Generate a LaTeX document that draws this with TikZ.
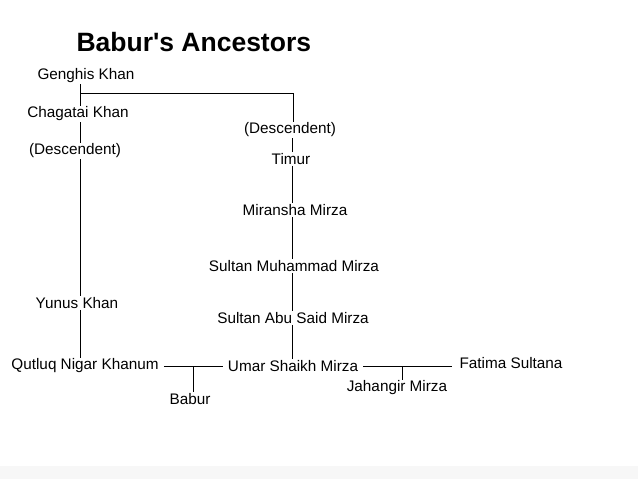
\documentclass[tikz,border=0pt]{standalone}
\usepackage{fontspec}
\setmainfont{Liberation Sans}
\begin{document}
\begin{tikzpicture}[x=1pt,y=-1pt,
  nm/.style={font=\fontsize{15.3}{17}\selectfont, inner sep=1pt},
  ln/.style={draw=black, line width=0.8pt}]
\useasboundingbox (0,0) rectangle (638,479);
\fill[gray!6] (0,466) rectangle (638,479);
\node[anchor=west, font=\fontsize{26.5}{30}\selectfont\bfseries] (title) at (73,42) {Babur\textquotesingle s Ancestors};
\node[nm] (gk) at (86,76) {Genghis Khan};
\node[nm] (ck) at (78,114) {Chagatai Khan};
\node[nm] (d1) at (75,151) {(Descendent)};
\node[nm] (yk) at (77,303) {Yunus Khan};
\node[nm] (qn) at (85,366) {Qutluq Nigar Khanum};
\node[nm] (ba) at (190,399) {Babur};
\node[nm] (d2) at (290,130) {(Descendent)};
\node[nm] (ti) at (291,159) {Timur};
\node[nm] (mm) at (295,210) {Miransha Mirza};
\node[nm] (sm) at (294,266) {Sultan Muhammad Mirza};
\node[nm] (sa) at (293,318) {Sultan Abu Said Mirza};
\node[nm] (us) at (293,366) {Umar Shaikh Mirza};
\node[nm] (jm) at (397,388) {Jahangir Mirza};
\node[nm] (fs) at (511,363) {Fatima Sultana};
\coordinate (j1) at (80,93);
\coordinate (bj) at (193,366);
\coordinate (fj) at (402,366);
\draw[ln] (gk.south -| j1) -- (ck.north -| j1);
\draw[ln] (ck.south -| j1) -- (d1.north -| j1);
\draw[ln] (d1.south -| j1) -- (yk.north -| j1);
\draw[ln] (yk.south -| j1) -- (qn.north -| j1);
\draw[ln] (j1) -| (d2.north -| 293,0);
\draw[ln] (ti.north -| 292,0) -- (d2.south -| 292,0);
\draw[ln] (ti.south -| 292,0) -- (mm.north -| 292,0);
\draw[ln] (mm.south -| 292,0) -- (sm.north -| 292,0);
\draw[ln] (sm.south -| 292,0) -- (sa.north -| 292,0);
\draw[ln] (sa.south -| 292,0) -- (us.north -| 292,0);
\draw[ln] (qn.east) ++(4,0) -- ([xshift=-4pt]us.west);
\draw[ln] (bj) -- (ba.north -| bj);
\draw[ln] ([xshift=4pt]us.east) -- ([xshift=-6pt]fs.west |- us.east);
\draw[ln] (fj) -- (jm.north -| fj);
\end{tikzpicture}
\end{document}
